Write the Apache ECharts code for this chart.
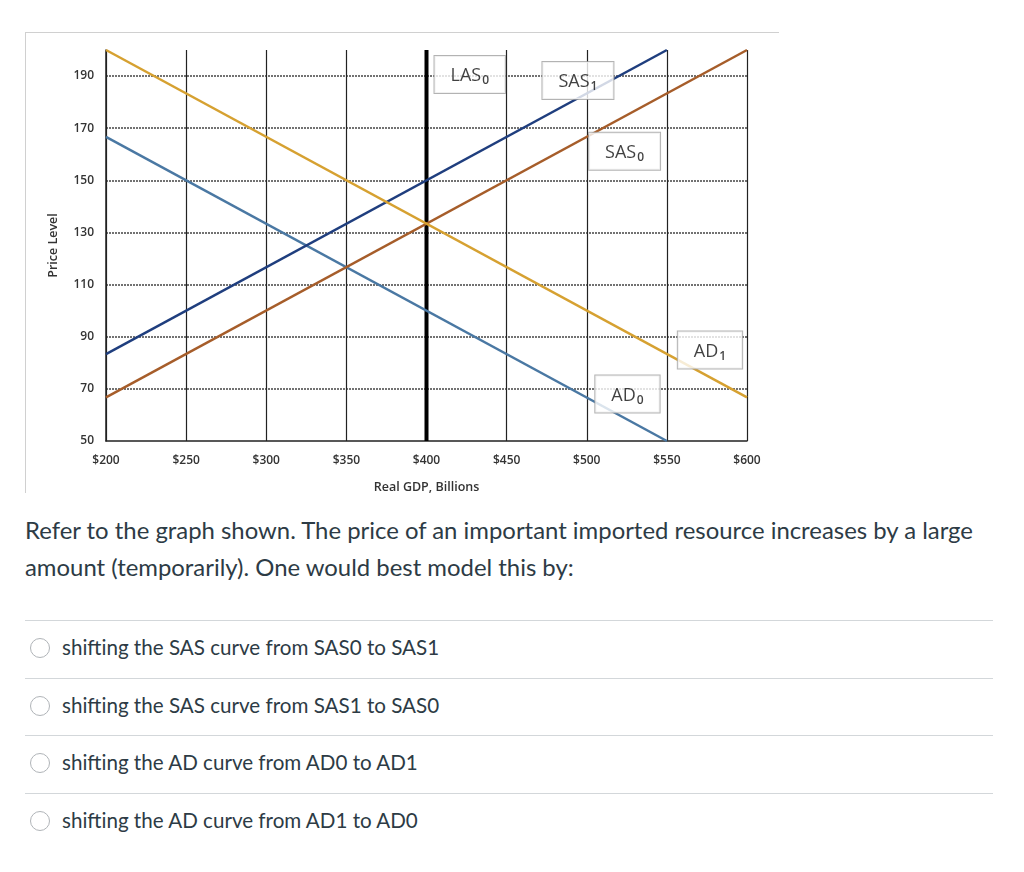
<!DOCTYPE html>
<html>
<head>
<meta charset="utf-8">
<script src="https://cdn.jsdelivr.net/npm/echarts@6/dist/echarts.min.js"></script>
<style>
  body { margin: 0; background: #fff; font-family: Lato, 'Open Sans', sans-serif; color: #2d3b45; }
  #frame { position: absolute; left: 25px; top: 32px; width: 753px; height: 460px; border-top: 1px solid #d0d0d0; border-left: 1px solid #d0d0d0; }
  #chart { position: absolute; left: 0; top: 0; width: 1024px; height: 500px; }
  #question { position: absolute; left: 25px; top: 511px; width: 985px; font-size: 23.9px; line-height: 37px; }
  .opt { position: absolute; left: 25px; width: 968px; height: 57px; border-top: 1px solid #d3d7da; }
  .opt .radio { position: absolute; left: 5px; top: 17px; width: 20px; height: 20px; border: 1px solid #b0b4b8; border-radius: 50%; box-sizing: border-box; }
  .opt .txt { position: absolute; left: 37px; top: 13px; font-size: 20.6px; line-height: 26px; }
</style>
</head>
<body>
<div id="frame"></div>
<div id="chart"></div>
<div id="question">Refer to the graph shown. The price of an important imported resource increases by a large amount (temporarily). One would best model this by:</div>
<div id="options"></div>
<script>
  // curves: [real GDP, price level]
  var adOne = [[200, 200], [600, 66.7]];
  var adZero = [[200, 166.7], [550, 50]];
  var sasOne = [[200, 83.3], [550, 200]];
  var sasZero = [[200, 66.7], [600, 200]];
  var lasZero = [[400, 50], [400, 200]];

  // curve labels: name, subscript, anchor in data coords
  var curveLabels = [
    ['LAS', '0', 427, 190.6],
    ['SAS', '1', 494.5, 188.3],
    ['SAS', '0', 523.6, 161.2],
    ['AD', '1', 576.9, 84.9],
    ['AD', '0', 525.4, 68.0]
  ];

  var answers = [
    'shifting the SAS curve from SAS0 to SAS1',
    'shifting the SAS curve from SAS1 to SAS0',
    'shifting the AD curve from AD0 to AD1',
    'shifting the AD curve from AD1 to AD0'
  ];

  var optTops = [620, 678, 735, 793];
  var box = document.getElementById('options');
  answers.forEach(function (a, i) {
    var d = document.createElement('div');
    d.className = 'opt';
    d.style.top = optTops[i] + 'px';
    d.innerHTML = '<div class="radio"></div><div class="txt">' + a + '</div>';
    box.appendChild(d);
  });

  var chartDom = document.getElementById('chart');
  var myChart = echarts.init(chartDom);
  var font = 'Open Sans';

  var hLineColors = ['transparent', '#444', '#444', '#444', '#444', '#444', '#444', '#444', 'transparent'];

  function lineSeries(name, data, color, width) {
    return {
      name: name,
      type: 'line',
      data: data,
      symbol: 'none',
      silent: true,
      lineStyle: { color: color, width: width }
    };
  }

  var option = {
    animation: false,
    grid: { left: 106, top: 50, width: 641, height: 391 },
    xAxis: {
      type: 'value',
      min: 200, max: 600, interval: 50,
      name: 'Real GDP, Billions',
      nameLocation: 'middle',
      nameGap: 40,
      nameTextStyle: { fontFamily: font, fontSize: 12.5, fontWeight: 600, color: '#333' },
      axisLine: { show: true, lineStyle: { color: '#222', width: 1.5 } },
      axisTick: { show: false },
      axisLabel: {
        margin: 14, fontFamily: font, fontSize: 12, fontWeight: 600, color: '#333',
        formatter: function (v) { return '$' + v; }
      },
      splitLine: { show: true, lineStyle: { color: '#222', width: 1.2, type: 'solid' } }
    },
    yAxis: {
      type: 'value',
      min: 50, max: 200, interval: 20,
      name: 'Price Level',
      nameLocation: 'middle',
      nameGap: 46,
      nameRotate: 90,
      nameTextStyle: { fontFamily: font, fontSize: 12.5, fontWeight: 600, color: '#333' },
      axisLine: { show: true, lineStyle: { color: '#222', width: 1.5 } },
      axisTick: { show: false },
      axisLabel: {
        margin: 12, fontFamily: font, fontSize: 12, fontWeight: 600, color: '#333',
        showMaxLabel: false
      },
      splitLine: { show: true, lineStyle: { color: hLineColors, width: 1.5, type: [2, 1] } }
    },
    series: [
      lineSeries('LAS0', lasZero, '#000', 4),
      lineSeries('AD0', adZero, '#4a78a3', 2.5),
      lineSeries('SAS1', sasOne, '#1f3e7e', 2.5),
      lineSeries('SAS0', sasZero, '#a65d2a', 2.5),
      lineSeries('AD1', adOne, '#d6a131', 2.5),
      {
        type: 'scatter',
        symbolSize: 0,
        silent: true,
        z: 10,
        data: curveLabels.map(function (c) { return { value: [c[2], c[3]], name: c[0], sub: c[1] }; }),
        label: {
          show: true,
          position: 'inside',
          formatter: function (p) { return '{main|' + p.data.name + '}{sub|' + p.data.sub + '}'; },
          backgroundColor: '#fff',
          borderColor: '#a0a0a0',
          borderWidth: 1,
          padding: [9, 16, 6, 16],
          rich: {
            main: { fontFamily: font, fontSize: 18, color: '#111' },
            sub: { fontFamily: font, fontSize: 12, fontWeight: 600, color: '#111', padding: [10, 0, 0, 1] }
          }
        }
      }
    ]
  };
  option && myChart.setOption(option);
</script>
</body>
</html>
